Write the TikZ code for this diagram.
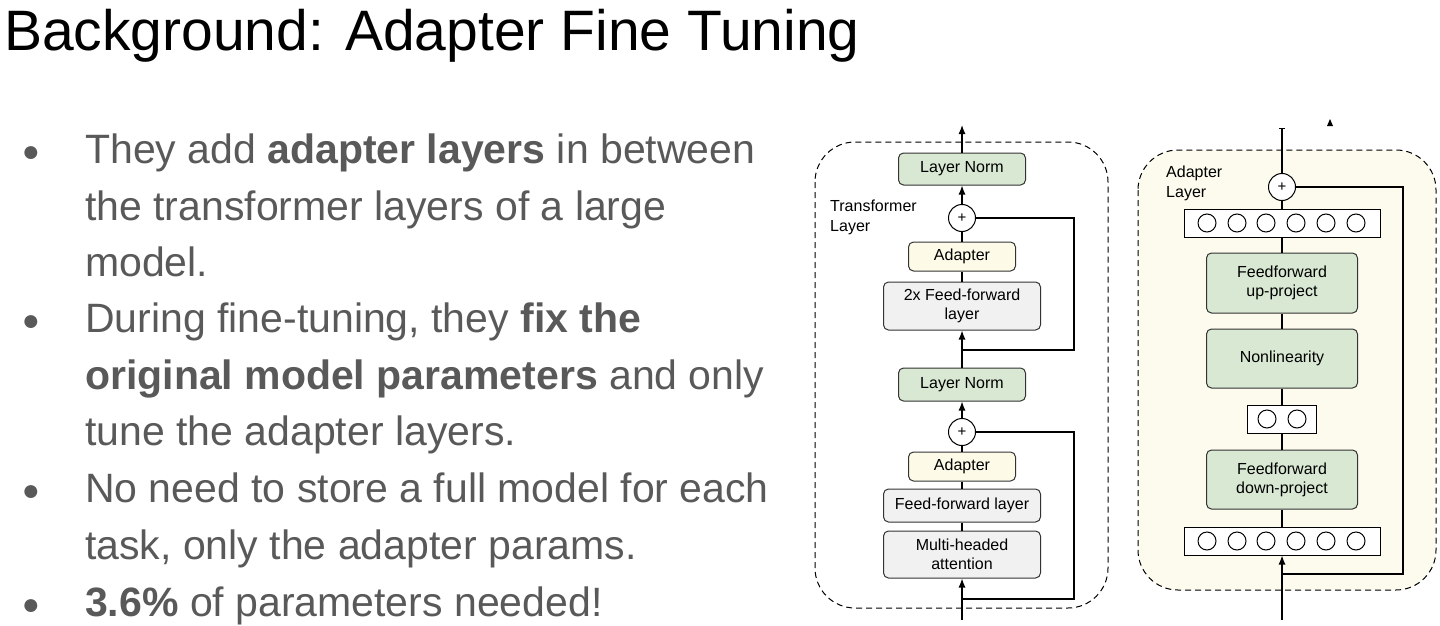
\documentclass[tikz,border=0pt]{standalone}
\usepackage{fontspec}
\setmainfont{Liberation Sans}
\usetikzlibrary{arrows.meta}
\definecolor{bgray}{HTML}{595959}
\definecolor{lgreen}{HTML}{D9E8D3}
\definecolor{lyellow}{HTML}{FDFBE8}
\definecolor{lgray}{HTML}{F1F1F1}
\definecolor{cream}{HTML}{FCFBEE}
\begin{document}
\begin{tikzpicture}[x=1pt,y=-1pt,
  blk/.style={draw=black!80,line width=1pt,rounded corners=5pt,align=center,font=\fontsize{16}{19}\selectfont,inner sep=0pt},
  grn/.style={blk,fill=lgreen},
  ylw/.style={blk,fill=lyellow},
  gry/.style={blk,fill=lgray},
  plus/.style={draw,circle,fill=white,line width=1pt,minimum size=27pt,inner sep=0pt,font=\fontsize{15}{15}\selectfont},
  neu/.style={draw,line width=1pt,fill=white,inner sep=0pt},
  ln/.style={line width=1.2pt},
  arr/.style={ln,-{Latex[length=9pt,width=7pt]}},
  dashbox/.style={draw,line width=1pt,dash pattern=on 6pt off 4pt,rounded corners=40pt},
  bul/.style={anchor=base west,inner sep=0pt,text=bgray,font=\fontsize{41}{48}\selectfont}]
\useasboundingbox (0,0) rectangle (1440,626);
\node[anchor=base west,inner sep=0pt,font=\fontsize{57}{64}\selectfont] (title) at (4,51) {Background: Adapter Fine Tuning};
% bullets
\foreach \y [count=\i] in {163,332,502,616}{\node[text=bgray,font=\fontsize{30}{30}\selectfont,anchor=base] (b\i) at (31,\y-2) {●};}
\node[bul] (l1) at (85,163) {They add \textbf{adapter layers} in between};
\node[bul] (l2) at (85,220) {the transformer layers of a large};
\node[bul] (l3) at (85,276) {model.};
\node[bul] (l4) at (85,332) {During fine-tuning, they \textbf{fix the}};
\node[bul] (l5) at (85,389) {\textbf{original model parameters} and only};
\node[bul] (l6) at (85,445) {tune the adapter layers.};
\node[bul] (l7) at (85,502) {No need to store a full model for each};
\node[bul] (l8) at (85,559) {task, only the adapter params.};
\node[bul] (l9) at (85,616) {\textbf{3.6\%} of parameters needed!};
% left diagram
\draw[dashbox] (815,142) rectangle (1108,608);
\node[anchor=north west,align=left,font=\fontsize{16}{20}\selectfont,inner sep=0pt] (tl) at (830,200) {Transformer\\Layer};
\node[grn,minimum width=127pt,minimum height=32pt] (ln1) at (962,169) {Layer Norm};
\node[plus] (p1) at (962,218) {+};
\node[ylw,minimum width=107pt,minimum height=29pt] (ad1) at (962,256.5) {Adapter};
\node[gry,minimum width=157pt,minimum height=48pt] (ff2) at (962,306) {2x Feed-forward\\layer};
\node[grn,minimum width=127pt,minimum height=33pt] (ln2) at (962,384.5) {Layer Norm};
\node[plus] (p2) at (962,432) {+};
\node[ylw,minimum width=107pt,minimum height=29pt] (ad2) at (962,466.5) {Adapter};
\node[gry,minimum width=157pt,minimum height=33pt] (ff1) at (962,505.5) {Feed-forward layer};
\node[gry,minimum width=157pt,minimum height=47pt] (mha) at (962,554.5) {Multi-headed\\attention};
\coordinate (topL) at (962,125);
\coordinate (botL) at (962,620);
\coordinate (s1) at (962,350); \coordinate (s1r) at (1074,350); \coordinate (p1r) at (1074,218);
\coordinate (s2) at (962,599); \coordinate (s2r) at (1074,599); \coordinate (p2r) at (1074,432);
\draw[arr] (ln1) -- (topL);
\draw[arr] (p1) -- (ln1);
\draw[ln] (ad1) -- (p1);
\draw[ln] (ff2) -- (ad1);
\draw[arr] (ln2) -- (ff2);
\draw[arr] (p2) -- (ln2);
\draw[ln] (ad2) -- (p2);
\draw[ln] (ff1) -- (ad2);
\draw[ln] (mha) -- (ff1);
\draw[arr] (botL) -- (mha);
\draw[ln] (p1) -- (p1r) -- (s1r) -- (s1);
\draw[ln] (p2) -- (p2r) -- (s2r) -- (s2);
% right diagram
\draw[dashbox,fill=cream] (1138,150) rectangle (1436,590);
\node[anchor=north west,align=left,font=\fontsize{16}{20}\selectfont,inner sep=0pt] (al) at (1166,166) {Adapter\\Layer};
\node[plus] (p3) at (1282,187) {+};
\node[neu,minimum width=196pt,minimum height=28pt] (nt) at (1282,223) {};
\foreach \x [count=\i] in {1207,1237,1266,1296,1326,1356}{\node[neu,circle,minimum size=18pt] (ct\i) at (\x,223) {};}
\node[grn,minimum width=151pt,minimum height=60pt] (fu) at (1282,283) {Feedforward\\up-project};
\node[grn,minimum width=151pt,minimum height=59pt] (nl) at (1282,358.5) {Nonlinearity};
\node[neu,minimum width=69pt,minimum height=28pt] (nm) at (1282,419) {};
\foreach \x [count=\i] in {1267,1297}{\node[neu,circle,minimum size=18pt] (cm\i) at (\x,419) {};}
\node[grn,minimum width=151pt,minimum height=59pt] (fd) at (1282,479.5) {Feedforward\\down-project};
\node[neu,minimum width=196pt,minimum height=28pt] (nb) at (1282,541) {};
\foreach \x [count=\i] in {1207,1237,1266,1296,1326,1356}{\node[neu,circle,minimum size=18pt] (cb\i) at (\x,541) {};}
\coordinate (topR) at (1282,128);
\coordinate (botR) at (1282,620);
\coordinate (s3) at (1282,574); \coordinate (s3r) at (1403,574); \coordinate (p3r) at (1403,187);
\draw[ln,-{Bar[width=6pt]}] (p3) -- (topR);
\draw[ln] (nt) -- (p3);
\draw[ln] (fu) -- (nt);
\draw[ln] (nl) -- (fu);
\draw[ln] (nm) -- (nl);
\draw[ln] (fd) -- (nm);
\draw[ln] (nb) -- (fd);
\draw[arr] (botR) -- (nb);
\draw[ln] (p3) -- (p3r) -- (s3r) -- (s3);
\fill (1327,126) -- (1333,126) -- (1330,119) -- cycle;
\end{tikzpicture}
\end{document}
